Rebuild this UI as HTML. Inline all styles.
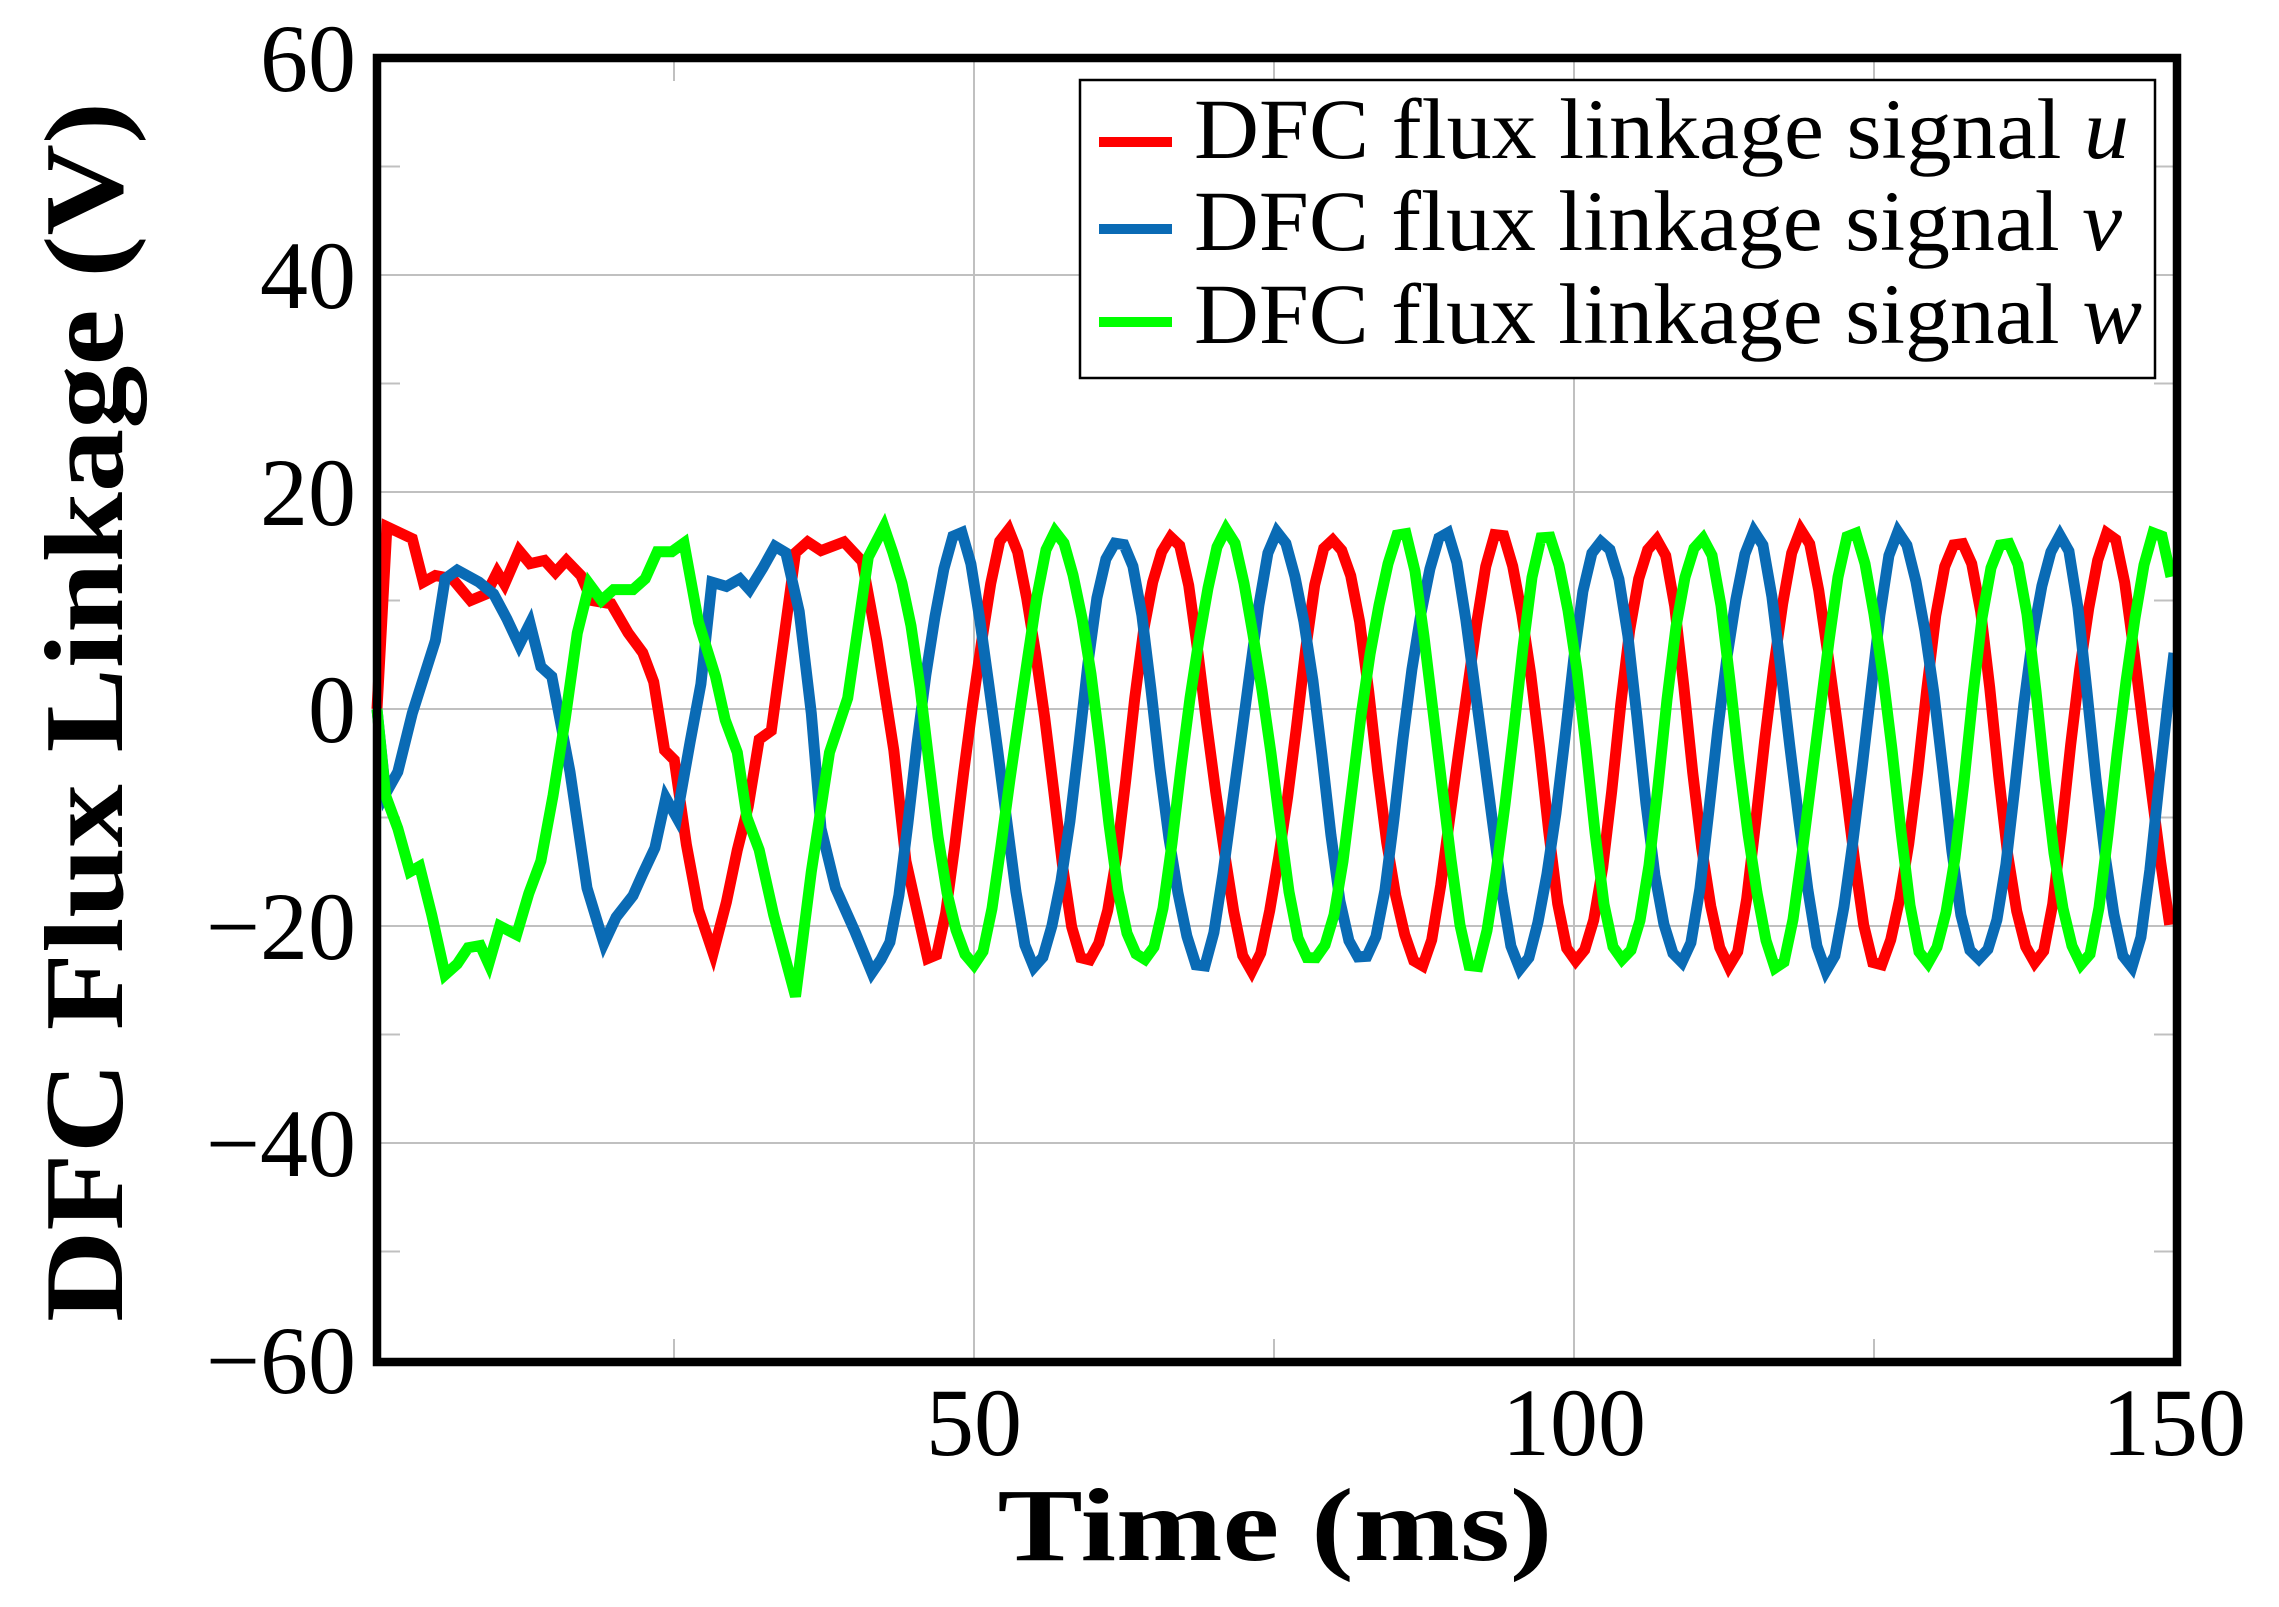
<!DOCTYPE html>
<html><head><meta charset="utf-8"><style>
html,body{margin:0;padding:0;background:#fff;}
svg{display:block;}
text{font-family:"Liberation Serif",serif;}
</style></head><body>
<svg id="s" width="2279" height="1607" viewBox="0 0 2279 1607" xmlns="http://www.w3.org/2000/svg">
<rect width="2279" height="1607" fill="#fff"/>
<g id="grid" stroke="#c0c0c0" stroke-width="2"></g>
<g id="series" fill="none" stroke-width="11" stroke-linejoin="miter"></g>
<rect x="377" y="58" width="1800" height="1304" fill="none" stroke="#000" stroke-width="8.5"/>
<g id="ticks" font-size="96" fill="#000"></g>
<g>
<rect x="1080" y="80" width="1075" height="298" fill="#fff" stroke="#000" stroke-width="2.5"/>
<line x1="1099" y1="142" x2="1172" y2="142" stroke="#ff0000" stroke-width="10"/>
<line x1="1099" y1="229" x2="1172" y2="229" stroke="#0a6bb5" stroke-width="10"/>
<line x1="1099" y1="322" x2="1172" y2="322" stroke="#00ff00" stroke-width="10"/>
<text x="1194" y="158" font-size="86" textLength="935" lengthAdjust="spacingAndGlyphs">DFC flux linkage signal <tspan font-style="italic">u</tspan></text>
<text x="1194" y="250" font-size="86" textLength="928" lengthAdjust="spacingAndGlyphs">DFC flux linkage signal <tspan font-style="italic">v</tspan></text>
<text x="1194" y="343" font-size="86" textLength="948" lengthAdjust="spacingAndGlyphs">DFC flux linkage signal <tspan font-style="italic">w</tspan></text>
</g>
<text x="1275" y="1560" font-size="104" font-weight="bold" text-anchor="middle" textLength="555" lengthAdjust="spacingAndGlyphs">Time (ms)</text>
<text transform="translate(122,712) rotate(-90)" x="0" y="0" font-size="112" font-weight="bold" text-anchor="middle" textLength="1220" lengthAdjust="spacingAndGlyphs">DFC Flux Linkage (V)</text>
</svg>
<script>
var NS="http://www.w3.org/2000/svg";
function X(t){return 374+t*12;}
function Y(v){return 709-v*10.85;}
function el(p,n,a,txt){var e=document.createElementNS(NS,n);for(var k in a)e.setAttribute(k,a[k]);if(txt!==undefined)e.textContent=txt;p.appendChild(e);return e;}
var g=document.getElementById('grid'),tk=document.getElementById('ticks'),sr=document.getElementById('series');
[40,20,0,-20,-40].forEach(function(v){el(g,'line',{x1:377,x2:2177,y1:Y(v),y2:Y(v)});});
[50,100].forEach(function(t){el(g,'line',{x1:X(t),x2:X(t),y1:58,y2:1362});});
[-50,-30,-10,10,30,50].forEach(function(v){el(g,'line',{x1:377,x2:400,y1:Y(v),y2:Y(v)});el(g,'line',{x1:2154,x2:2177,y1:Y(v),y2:Y(v)});});
[25,75,125].forEach(function(t){el(g,'line',{x1:X(t),x2:X(t),y1:1339,y2:1362});el(g,'line',{x1:X(t),x2:X(t),y1:58,y2:81});});
[60,40,20,0,-20,-40,-60].forEach(function(v){el(tk,'text',{x:356,y:Y(v)+33,'text-anchor':'end'},(v<0?'\u2212':'')+Math.abs(v));});
[50,100,150].forEach(function(t){el(tk,'text',{x:X(t),y:1455,'text-anchor':'middle'},''+t);});
function cv(t){return Math.max(0.25,1.0105*t-0.24);}
function mk(trans,peaks){
  var pts=trans.map(function(p){return [cv(p[0]),p[1]];});
  var tsw=pts[pts.length-1][0];
  var P=peaks;
  function phase(t){
    var i;
    if(t<=P[0]){return (t-P[0])/(P[1]-P[0]);}
    for(i=0;i<P.length-1;i++){if(t<=P[i+1])return i+(t-P[i])/(P[i+1]-P[i]);}
    return P.length-1+(t-P[P.length-1])/(P[P.length-1]-P[P.length-2]);
  }
  for(var t=tsw+0.75;t<=150.3;t+=0.75){
    var tt=Math.min(t,150);
    var ph=phase(tt);var v=-3.8+19.8*Math.cos(2*Math.PI*ph)+0.6*Math.sin(tt*1.7);
    pts.push([tt,v]);
  }
  return pts.map(function(p){return X(p[0]).toFixed(1)+','+Y(p[1]).toFixed(1);}).join(' ');
}
var red=[[0.3,0],[1.3,16.8],[3.4,15.7],[4.3,11.7],[5.3,12.3],[6.7,12],[8.2,10],[9.5,10.6],[10.4,12.6],[11,11.5],[12.2,14.6],[13.1,13.4],[14.3,13.7],[15.2,12.6],[16.1,13.7],[17.3,12.3],[18.2,10],[19.8,9.7],[21.2,7],[22.4,5.2],[23.3,2.5],[24.2,-3.8],[25,-4.7],[26,-12.5],[27,-18.5],[28.2,-22.5],[29.3,-17.8],[30.2,-13],[31.1,-9],[32,-2.8],[33,-2],[34.1,7],[35,14.4],[36,15.4],[37.1,14.6],[39,15.4],[40.5,13.6],[41.7,6.3],[43.1,-3.8],[44.1,-14],[45.9,-23]];
var blue=[[0.3,0],[1.2,-7.8],[2.2,-5.8],[3.4,-0.4],[5.3,6.3],[6.1,12],[7.1,12.8],[8.9,11.7],[10.1,10.6],[11.2,8.3],[12.2,5.9],[13.1,7.9],[14,3.9],[14.9,3],[16.4,-5.8],[17.8,-16.5],[19.2,-21.6],[20.2,-19.2],[21.6,-17.2],[22.4,-15.2],[23.4,-12.8],[24.3,-8.2],[25.2,-10],[26.3,-3.1],[27.2,2.3],[28.1,11.7],[29.3,11.3],[30.4,12],[31.2,11],[32.3,13],[33.3,15],[34.2,14.4],[35.3,9],[36.3,-0.4],[37.1,-11],[38.3,-16.5],[39.9,-20.5],[41.3,-24.3]];
var green=[[0.3,0],[1.2,-8],[2.2,-11],[3.2,-15],[4,-14.5],[5,-19],[6.1,-24.5],[7.1,-23.5],[8,-22],[9,-21.8],[9.7,-23.5],[10.6,-20],[12,-20.8],[13,-17],[14,-14],[15,-8],[16,-1],[17,7],[18,11.5],[19,10],[20,11],[21.6,11],[22.6,12],[23.6,14.5],[24.8,14.5],[25.8,15.3],[27,8],[28.4,3],[29.2,-1],[30.2,-4],[31,-10],[32,-13],[33.2,-19],[35,-26.5],[36.3,-15],[37.8,-4],[39.3,1],[41,14],[42.3,16.8]];
var sd=[
 ['#ff0000',red,[52.8,66.3,80,93.9,106.7,118.9,132.1,144.5,157.3]],
 ['#0a6bb5',blue,[48.6,62,75.5,89.1,102.4,115,127.2,140.4,152.0]],
 ['#00ff00',green,[42.5,57,71,85.6,97.8,110.5,123.3,135.9,148.5]]
];
sd.forEach(function(s){el(sr,'polyline',{points:mk(s[1],s[2]),stroke:s[0]});});
</script>
</body></html>
